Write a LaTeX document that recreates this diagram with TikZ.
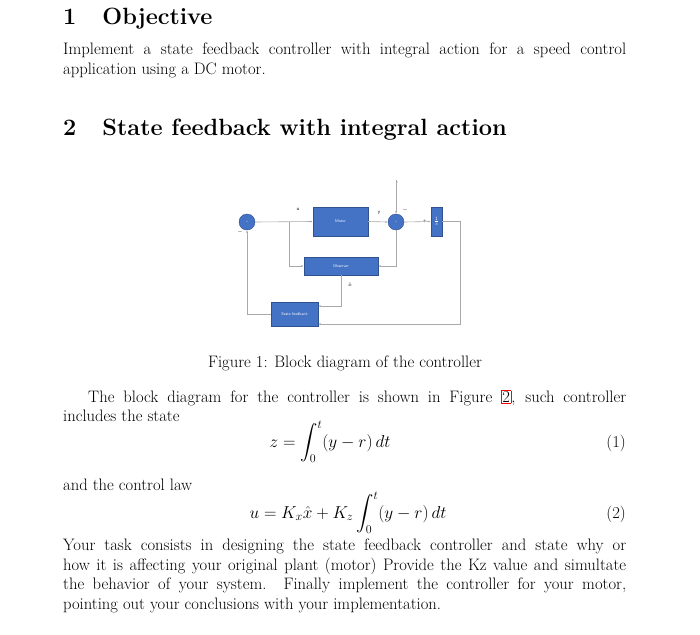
\documentclass[tikz,border=0pt]{standalone}
\usepackage{amsmath}
\usetikzlibrary{arrows.meta}
\definecolor{bx}{HTML}{4472C4}
\definecolor{bxd}{HTML}{2F528F}
\definecolor{ln}{HTML}{A9A9A9}
\begin{document}
\begin{tikzpicture}[x=1pt,y=-1pt,
  txt/.style={inner sep=0pt,font=\fontsize{16.6}{19.5}\selectfont},
  par/.style={txt,text width=563pt,align=justify,anchor=north west,execute at begin node={\hyphenpenalty=10000\exhyphenpenalty=10000}},
  hd/.style={inner sep=0pt,anchor=base west,font=\fontsize{23.5}{28}\selectfont\bfseries},
  blk/.style={draw=bxd,fill=bx,line width=0.4pt,inner sep=0pt,font=\sffamily\fontsize{4}{4}\selectfont,text=white},
  sum/.style={circle,draw=bxd,fill=bx,minimum size=16pt,inner sep=0pt,font=\sffamily\fontsize{3}{3}\selectfont,text=white},
  wire/.style={draw=ln,line width=0.6pt},
  arr/.style={wire,-{Latex[length=2.5pt,width=2pt]}},
  lab/.style={inner sep=0pt,font=\sffamily\fontsize{5}{5}\selectfont}]
\useasboundingbox (0,0) rectangle (700,634);
\fill[white] (0,0) rectangle (700,634);
% headings
\node[hd] (h1) at (63,25) {1\hspace{26pt}Objective};
\node[par] (p1) at (63,43) {Implement a state feedback controller with integral action for a speed control application using a DC motor.};
\node[hd] (h2) at (63,135) {2\hspace{26pt}State feedback with integral action};
% diagram
\node[sum] (s1) at (247,222) {+};
\node[blk,minimum width=55pt,minimum height=29pt] (motor) at (340.5,221.5) {Motor};
\node[sum] (s2) at (396,222) {+};
\node[blk,minimum width=11pt,minimum height=29pt,font=\sffamily\fontsize{3}{3}\selectfont] (int) at (436.5,221.5) {$\frac{1}{s}$};
\node[blk,minimum width=74pt,minimum height=18pt] (obs) at (341,266) {Observer};
\node[blk,minimum width=47pt,minimum height=24pt] (sf) at (294.5,314) {State feedback};
\coordinate (rin) at (396,180);
\node[lab] (lu) at (298,209) {u};
\node[lab] (ly) at (379,213) {y};
\node[lab] (lr) at (397,183) {r};
\node[lab] (lm) at (405,210) {$-$};
\node[lab] (lm2) at (240,232) {$-$};
\node[lab] (lx) at (350,285) {$\hat{x}$};
\node[lab] (lp) at (425,221) {+};
\draw[arr] (s1.east) -- (motor.west);
\draw[arr] (motor.east) -- (s2.west);
\draw[arr] (rin) -- (s2.north);
\draw[arr] (s2.east) -- (int.west);
\draw[arr] (289,222) |- (obs.west);
\draw[arr] (s2.south) |- (obs.east);
\draw[arr] (obs.south) |- (sf.east |- 0,306);
\draw[arr] (int.east) -- (460,221.5) |- (sf.east |- 0,324);
\draw[arr] (sf.west) -| (s1.south);
% caption and text
\node[txt,anchor=base] (cap) at (345,367) {Figure 1: Block diagram of the controller};
\node[par] (p2) at (63,390) {\hspace*{25pt}The block diagram for the controller is shown in Figure {\setlength{\fboxsep}{0.5pt}\setlength{\fboxrule}{0.8pt}\fcolorbox{red}{white}{2}}, such controller\linebreak includes the state};
\node[txt,anchor=base] (e1) at (330,447) {$\displaystyle z=\int_0^t (y-r)\,dt$};
\node[txt,anchor=base east] (n1) at (626,447) {(1)};
\node[txt,anchor=base west] (p3) at (63,490) {and the control law};
\node[txt,anchor=base] (e2) at (348,518) {$\displaystyle u=K_x\hat{x}+K_z\int_0^t (y-r)\,dt$};
\node[txt,anchor=base east] (n2) at (626,518) {(2)};
\node[par] (p4) at (63,539) {Your task consists in designing the state feedback controller and state why or\linebreak how it is affecting your original plant (motor) Provide the Kz value and simultate\linebreak the behavior of your system. Finally implement the controller for your motor,\linebreak pointing out your conclusions with your implementation.};
\end{tikzpicture}
\end{document}
